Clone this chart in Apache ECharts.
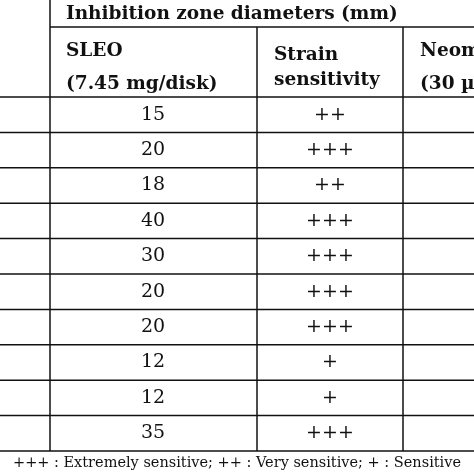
<!DOCTYPE html><html><head><meta charset="utf-8"><script src="https://cdn.jsdelivr.net/npm/echarts@6/dist/echarts.min.js"></script>
<style>html,body{margin:0;background:#fff}#c{width:474px;height:474px}</style></head><body><div id="c"></div><script>
const title = 'Inhibition zone diameters (mm)';
const headers = [['SLEO','(7.45 mg/disk)'],['Strain','sensitivity'],['Neomycin','(30 µg/disk)']];
const sleo = ['15','20','18','40','30','20','20','12','12','35'];
const sensitivity = ['++','+++','++','+++','+++','+++','+++','+','+','+++'];
const footnote = '+++ : Extremely sensitive; ++ : Very sensitive; + : Sensitive';

const F = '"DejaVu Serif", serif';
const HF = 'bold 18.5px '+F;
const g = [];
const line = (x1,y1,x2,y2)=>g.push({type:'line',shape:{x1,y1,x2,y2},style:{stroke:'#111',lineWidth:1.5}});
const txt = (x,y,t,o)=>g.push({type:'text',x,y,style:Object.assign({text:t,fill:'#111',font:'19px '+F,textVerticalAlign:'middle'},o||{})});
const top0=97, rh=35.4, n=sleo.length;
line(50,0,50,top0+rh*n);
line(50,27,474,27);
line(257,27,257,top0+rh*n);
line(403,27,403,top0+rh*n);
for(let i=0;i<=n;i++) line(0,top0+rh*i,474,top0+rh*i);
txt(66,14,title,{font:HF});
txt(66,51,headers[0][0],{font:HF});
txt(66,84,headers[0][1],{font:HF});
txt(274,55,headers[1][0],{font:HF});
txt(274,80,headers[1][1],{font:HF});
txt(420,51,headers[2][0],{font:HF});
txt(420,84,headers[2][1],{font:HF});
sleo.forEach((v,i)=>txt(153,top0+rh*i+rh/2,v,{textAlign:'center'}));
sensitivity.forEach((v,i)=>txt(330,top0+rh*i+rh/2,v,{textAlign:'center'}));
txt(237,463,footnote,{textAlign:'center',font:'14.5px '+F});
const chart = echarts.init(document.getElementById('c'));
chart.setOption({animation:false,graphic:g});
</script></body></html>
